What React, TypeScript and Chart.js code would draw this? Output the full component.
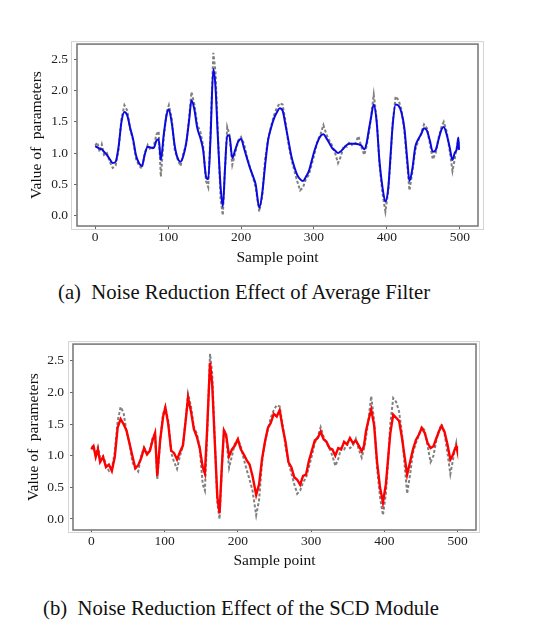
import React, { useEffect, useRef } from "react";
import { Chart, registerables } from "chart.js";

Chart.register(...registerables);

// ---- data ----
const samplePoints = [
  0, 3, 6, 9, 12, 16, 20, 24, 28, 32,
  36, 40, 44, 48, 52, 56, 60, 64, 68, 72,
  76, 80, 84, 87, 90, 94, 98, 101, 105, 109,
  113, 117, 121, 125, 129, 132, 136, 140, 144, 148,
  152, 155, 158, 162, 165, 168, 172, 175, 178, 181,
  184, 188, 192, 196, 200, 204, 208, 212, 216, 220,
  225, 229, 233, 237, 241, 245, 249, 253, 257, 261,
  265, 269, 273, 277, 281, 285, 289, 293, 297, 301,
  305, 309, 313, 317, 321, 325, 329, 333, 337, 341,
  345, 349, 353, 357, 361, 365, 369, 372, 375, 378,
  382, 386, 390, 394, 398, 402, 405, 408, 412, 416,
  420, 424, 428, 431, 435, 439, 443, 447, 451, 455,
  459, 463, 467, 471, 475, 478, 482, 486, 490, 493,
  496, 498, 499,
];

// original noisy signal (grey dashed)
const originalSignal = [
  1.12, 1.17, 1.02, 1.14, 0.97, 1.0, 0.86, 0.76, 0.8, 1.05,
  1.55, 1.77, 1.68, 1.38, 1.2, 0.9, 0.8, 0.75, 1.0, 1.13,
  1.05, 1.1, 1.3, 1.35, 0.62, 1.25, 1.66, 1.77, 1.55, 1.05,
  0.9, 0.79, 1.0, 1.15, 1.6, 1.98, 1.78, 1.45, 1.35, 1.12,
  0.55, 0.45, 1.3, 2.61, 2.3, 1.4, 0.25, 0.0, 0.75, 1.42,
  1.3, 0.81, 1.0, 1.2, 1.26, 1.15, 0.95, 0.78, 0.62, 0.45,
  0.06, 0.3, 0.9, 1.22, 1.42, 1.6, 1.72, 1.8, 1.78, 1.5,
  1.15, 0.9, 0.72, 0.55, 0.4, 0.45, 0.58, 0.65, 0.82, 1.0,
  1.2, 1.3, 1.45, 1.3, 1.2, 1.12, 1.0, 0.84, 0.95, 1.12,
  1.1, 1.18, 1.12, 1.16, 1.27, 1.1, 0.97, 1.1, 1.3, 1.55,
  1.94, 1.55, 0.8, 0.35, 0.06, 0.4, 0.9, 1.5, 1.91, 1.85,
  1.7, 1.35, 0.8, 0.4, 0.7, 1.05, 1.2, 1.32, 1.46, 1.4,
  1.15, 0.9, 1.0, 1.25, 1.42, 1.5, 1.35, 1.05, 0.71, 0.9,
  1.1, 1.2, 1.08,
];

// average-filter output (blue)
const averageFiltered = [
  1.11, 1.09, 1.07, 1.06, 1.02, 0.97, 0.9, 0.84, 0.86, 1.1,
  1.5, 1.66, 1.6, 1.4, 1.22, 0.96, 0.84, 0.79, 0.98, 1.1,
  1.09, 1.08, 1.2, 1.22, 0.89, 1.3, 1.62, 1.7, 1.48, 1.12,
  0.92, 0.86, 0.96, 1.18, 1.55, 1.85, 1.7, 1.4, 1.25, 1.05,
  0.62, 0.58, 1.2, 2.35, 2.05, 1.3, 0.45, 0.14, 0.75, 1.28,
  1.28, 0.92, 1.05, 1.18, 1.23, 1.08, 0.92, 0.77, 0.64, 0.5,
  0.12, 0.35, 0.8, 1.2, 1.4, 1.55, 1.65, 1.72, 1.68, 1.45,
  1.2, 0.95, 0.78, 0.65, 0.58, 0.55, 0.62, 0.71, 0.88, 1.05,
  1.18, 1.27, 1.3, 1.24, 1.16, 1.08, 1.04, 1.0, 1.03, 1.08,
  1.13, 1.15, 1.15, 1.15, 1.14, 1.12, 1.06, 1.15, 1.35, 1.55,
  1.78, 1.5, 0.85, 0.45, 0.22, 0.45, 0.95, 1.45, 1.78, 1.76,
  1.65, 1.4, 0.89, 0.55, 0.75, 1.1, 1.22, 1.3, 1.4, 1.36,
  1.2, 1.02, 1.05, 1.22, 1.38, 1.42, 1.3, 1.1, 0.89, 1.0,
  1.07, 1.25, 1.05,
];

// SCD-module output (red)
const scdFiltered = [
  1.1, 1.15, 0.98, 1.1, 0.9, 0.98, 0.82, 0.86, 0.76, 0.98,
  1.45, 1.58, 1.5, 1.4, 1.2, 1.0, 0.8, 0.85, 0.96, 1.12,
  1.02, 1.08, 1.26, 1.36, 0.68, 1.25, 1.62, 1.76, 1.5, 1.08,
  1.04, 0.94, 1.06, 1.16, 1.58, 1.92, 1.7, 1.42, 1.3, 1.12,
  0.82, 0.72, 1.4, 2.47, 2.12, 1.35, 0.35, 0.09, 0.8, 1.4,
  1.33, 0.99, 1.1, 1.16, 1.26, 1.1, 1.02, 0.93, 0.86, 0.68,
  0.38, 0.55, 0.95, 1.22, 1.44, 1.52, 1.66, 1.62, 1.72, 1.45,
  1.22, 0.9, 0.82, 0.66, 0.62, 0.54, 0.68, 0.7, 0.92, 1.08,
  1.24, 1.28, 1.38, 1.26, 1.22, 1.12, 1.1, 1.0, 1.12, 1.1,
  1.22, 1.18, 1.28, 1.2, 1.24, 1.16, 1.07, 1.15, 1.4, 1.55,
  1.73, 1.48, 0.9, 0.5, 0.26, 0.55, 0.95, 1.35, 1.65, 1.6,
  1.55, 1.28, 0.95, 0.7, 0.9, 1.1, 1.25, 1.33, 1.44, 1.36,
  1.2, 1.12, 1.15, 1.28, 1.4, 1.47, 1.38, 1.18, 0.94, 1.0,
  1.1, 1.15, 1.1,
];

const yTickValues = [0, 0.5, 1.0, 1.5, 2.0, 2.5];
const xTickValues = [0, 100, 200, 300, 400, 500];

const SERIF = "'Liberation Serif', 'Times New Roman', Times, serif";

const framePlugin = {
  id: "frame",
  afterDatasetsDraw(chart: any, _args: any, opts: any) {
    const { ctx, chartArea } = chart;
    const { left, right, top, bottom } = chartArea;
    const o = opts.outer;
    ctx.save();
    ctx.strokeStyle = "#d4d4d4";
    ctx.lineWidth = 1;
    ctx.strokeRect(left - o.l + 0.5, top - o.t + 0.5, right - left + o.l + o.r, bottom - top + o.t + o.b);
    ctx.strokeStyle = "#7c7c7c";
    ctx.lineWidth = 1.6;
    ctx.strokeRect(left, top, right - left, bottom - top);
    ctx.restore();
  },
};

function toPoints(values: number[]) {
  return samplePoints.map((x, i) => ({ x, y: values[i] }));
}

type Cfg = {
  filtered: number[];
  color: string;
  width: number;
  smooth: boolean;
  padTop: number;
  padRight: number;
  yWidth: number;
  xHeight: number;
  yTitlePad: number;
  xTitlePad: number;
  yMin: number;
  yMax: number;
  outer: { l: number; t: number; r: number; b: number };
};

function buildConfig(c: Cfg): any {
  return {
    type: "line",
    data: {
      datasets: [
        {
          data: toPoints(c.filtered),
          borderColor: c.color,
          borderWidth: c.width,
          pointRadius: 0,
          tension: 0,
          cubicInterpolationMode: c.smooth ? "monotone" : "default",
        },
        {
          data: toPoints(originalSignal),
          borderColor: "#808080",
          borderWidth: 2,
          borderDash: [3, 2],
          pointRadius: 0,
          tension: 0,
        },
      ],
    },
    options: {
      responsive: false,
      animation: false,
      events: [],
      layout: { padding: { top: c.padTop, right: c.padRight, left: 0, bottom: 0 } },
      plugins: {
        legend: { display: false },
        tooltip: { enabled: false },
        frame: { outer: c.outer },
      },
      scales: {
        x: {
          type: "linear",
          min: -25,
          max: 525,
          afterBuildTicks: (s: any) => {
            s.ticks = xTickValues.map((v) => ({ value: v }));
          },
          afterFit: (s: any) => {
            s.height = c.xHeight;
          },
          border: { display: false },
          grid: { display: true, drawOnChartArea: false, drawTicks: true, tickLength: 3, color: "#666" },
          ticks: {
            padding: 0,
            maxRotation: 0,
            color: "#222",
            font: { family: SERIF, size: 13.5 },
            callback: (v: any) => String(v),
          },
          title: {
            display: true,
            text: "Sample point",
            color: "#111",
            font: { family: SERIF, size: 15.5 },
            padding: { top: 0, bottom: c.xTitlePad },
          },
        },
        y: {
          type: "linear",
          min: c.yMin,
          max: c.yMax,
          afterBuildTicks: (s: any) => {
            s.ticks = yTickValues.map((v) => ({ value: v }));
          },
          afterFit: (s: any) => {
            s.width = c.yWidth;
          },
          border: { display: false },
          grid: { display: true, drawOnChartArea: false, drawTicks: true, tickLength: 3, color: "#666" },
          ticks: {
            padding: 6,
            color: "#222",
            font: { family: SERIF, size: 13.5 },
            callback: (v: any) => Number(v).toFixed(1),
          },
          title: {
            display: true,
            text: "Value of  parameters",
            color: "#111",
            font: { family: SERIF, size: 15.5 },
            padding: { top: c.yTitlePad, bottom: 0 },
          },
        },
      },
    },
    plugins: [framePlugin],
  };
}

function NoiseChart({ cfg, top }: { cfg: Cfg; top: number }) {
  const ref = useRef<HTMLCanvasElement | null>(null);
  useEffect(() => {
    if (!ref.current) return;
    const chart = new Chart(ref.current, buildConfig(cfg));
    return () => chart.destroy();
  }, []);
  return (
    <canvas
      ref={ref}
      width={534}
      height={240}
      style={{ position: "absolute", left: 0, top, width: 534, height: 240, display: "block" }}
    />
  );
}

const captionStyle: React.CSSProperties = {
  position: "absolute",
  fontFamily: SERIF,
  fontSize: 20.7,
  lineHeight: "24px",
  color: "#111",
  whiteSpace: "pre",
};

export default function App() {
  const cfgA: Cfg = {
    filtered: averageFiltered,
    color: "#0a0ae0",
    width: 2,
    smooth: true,
    padTop: 9,
    padRight: 56,
    yWidth: 77,
    xHeight: 44,
    yTitlePad: 28,
    xTitlePad: 3,
    yMin: -0.172,
    yMax: 2.75,
    outer: { l: 6, t: 3, r: 5, b: 3 },
  };
  const cfgB: Cfg = {
    filtered: scdFiltered,
    color: "#ff0000",
    width: 2.4,
    smooth: false,
    padTop: 14,
    padRight: 58,
    yWidth: 73,
    xHeight: 40,
    yTitlePad: 25,
    xTitlePad: 0,
    yMin: -0.174,
    yMax: 2.764,
    outer: { l: 5, t: 3, r: 3, b: 2 },
  };
  return (
    <div style={{ position: "absolute", left: 0, top: 0, width: 534, height: 621, background: "#fff", overflow: "hidden" }}>
      <NoiseChart cfg={cfgA} top={30} />
      <div style={{ ...captionStyle, left: 58, top: 280 }}>{"(a)  Noise Reduction Effect of Average Filter"}</div>
      <NoiseChart cfg={cfgB} top={330} />
      <div style={{ ...captionStyle, left: 43, top: 596 }}>{"(b)  Noise Reduction Effect of the SCD Module"}</div>
    </div>
  );
}
